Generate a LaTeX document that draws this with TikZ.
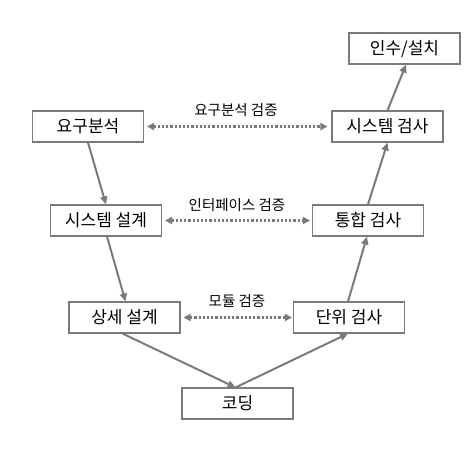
\documentclass[tikz,border=0pt]{standalone}
\usepackage{fontspec}
\newfontfamily\kr{Noto Sans CJK KR}
\usetikzlibrary{arrows.meta}
\definecolor{lc}{HTML}{7A7A7A}
\tikzset{
  box/.style={draw=lc, line width=1.1pt, minimum width=111pt, minimum height=31pt, inner sep=0pt, font=\kr\fontsize{17}{19}\selectfont, text=black},
  flow/.style={draw=lc, line width=2pt, -{Triangle[length=8pt,width=7pt]}},
  verif/.style={draw=lc, line width=2.2pt, dotted, {Triangle[length=7pt,width=7pt]}-{Triangle[length=7pt,width=7pt]}},
  lbl/.style={font=\kr\fontsize{14.5}{16}\selectfont, text=black}
}
\begin{document}
\begin{tikzpicture}[x=1pt,y=-1pt]
\useasboundingbox (0,0) rectangle (474,474);
\node[box] (acc) at (404.5,48.5) {인수/설치};
\node[box] (req) at (88,126.5) {요구분석};
\node[box] (sys) at (387.5,126.5) {시스템 검사};
\node[box] (sd) at (106,220.5) {시스템 설계};
\node[box] (int) at (368,220.5) {통합 검사};
\node[box] (dd) at (124.5,317.5) {상세 설계};
\node[box] (unit) at (349,317.5) {단위 검사};
\node[box] (code) at (237.5,403.5) {코딩};
\draw[flow] (req.south) -- (sd.north);
\draw[flow] ([xshift=1pt]sd.south) -- ([xshift=1pt]dd.north);
\draw[flow] ([xshift=-2pt]dd.south) -- ([xshift=-2pt]code.north);
\draw[flow] ([xshift=-2pt]code.north) -- ([xshift=-1pt]unit.south);
\draw[flow] ([xshift=-1pt]unit.north) -- ([xshift=-1pt]int.south);
\draw[flow] (int.north) -- (sys.south);
\draw[flow] (sys.north) -- ([xshift=1.5pt]acc.south);
\draw[verif] ([xshift=3pt]req.east) -- ([xshift=-4pt]sys.west);
\draw[verif] ([xshift=3pt]sd.east) -- ([xshift=-2pt]int.west);
\draw[verif] ([xshift=3pt]dd.east) -- ([xshift=-1pt]unit.west);
\node[lbl] (l1) at (236,110) {요구분석 검증};
\node[lbl] (l2) at (237,205) {인터페이스 검증};
\node[lbl] (l3) at (237,301) {모듈 검증};
\end{tikzpicture}
\end{document}
